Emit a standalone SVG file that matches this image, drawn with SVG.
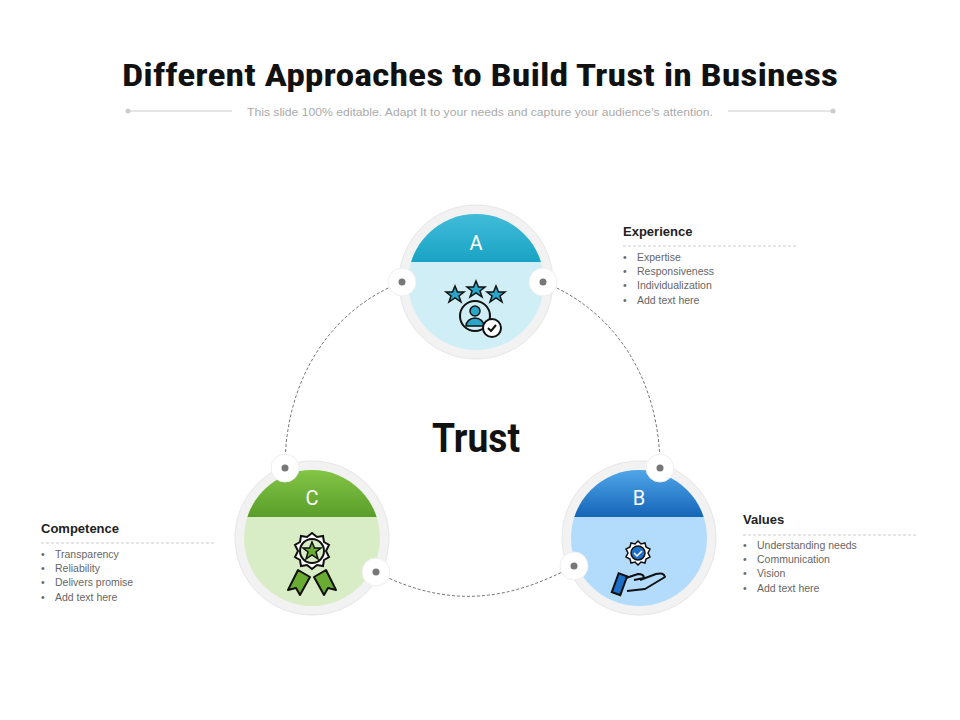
<svg xmlns="http://www.w3.org/2000/svg" width="960" height="720" viewBox="0 0 960 720">
<defs>
<linearGradient id="ga" x1="0" y1="0" x2="0" y2="1"><stop offset="0" stop-color="#4cc3de"/><stop offset="1" stop-color="#1aa3c4"/></linearGradient>
<linearGradient id="gb" x1="0" y1="0" x2="0" y2="1"><stop offset="0" stop-color="#5cb4f2"/><stop offset="1" stop-color="#1565b8"/></linearGradient>
<linearGradient id="gc" x1="0" y1="0" x2="0" y2="1"><stop offset="0" stop-color="#8ccd4c"/><stop offset="1" stop-color="#5a9e2a"/></linearGradient>
<clipPath id="ca"><circle cx="476" cy="282" r="68"/></clipPath>
<clipPath id="cb"><circle cx="639" cy="538" r="68"/></clipPath>
<clipPath id="cc"><circle cx="312" cy="538" r="68"/></clipPath>
</defs>
<style>
.ring{fill:#f2f2f2;stroke:#e6e6e6;stroke-width:1}
.lbl{font-family:Roboto,"Liberation Sans",sans-serif;font-size:20px;fill:#fff;text-anchor:middle}
.h{font-family:"Liberation Sans",Arial,sans-serif;font-weight:bold;font-size:13px;fill:#222}
.b{font-family:"Liberation Sans",Arial,sans-serif;font-size:10.5px;fill:#666}
.sep{stroke:#ccc;stroke-dasharray:3,2;stroke-width:1}
.con{fill:none;stroke:#777;stroke-width:1;stroke-dasharray:3,2}
.dot{fill:#777}
.notch{fill:#fff;stroke:#eee}
.ic{fill:none;stroke:#111;stroke-width:2;stroke-linejoin:round}
</style>
<text x="480" y="86" text-anchor="middle" font-family="'Roboto Condensed',Roboto,'Liberation Sans',sans-serif" font-weight="bold" font-size="32" fill="#111" textLength="716" lengthAdjust="spacingAndGlyphs">Different Approaches to Build Trust in Business</text>
<g stroke="#ccc"><line x1="128" y1="111" x2="232" y2="111"/><line x1="728" y1="111" x2="833" y2="111"/></g>
<circle cx="128" cy="111" r="2.5" fill="#ccc"/><circle cx="833" cy="111" r="2.5" fill="#ccc"/>
<text x="480" y="116" text-anchor="middle" font-family="'Liberation Sans',Arial,sans-serif" font-size="11" fill="#aaa" textLength="466" lengthAdjust="spacingAndGlyphs">This slide 100% editable. Adapt  It to your needs and capture your audience’s attention.</text>
<text x="476" y="452" text-anchor="middle" font-family="Roboto,'Liberation Sans',sans-serif" font-weight="bold" font-size="40" fill="#111" textLength="88" lengthAdjust="spacingAndGlyphs">Trust</text>
<g id="connectors">
<path class="con" d="M402,282 C330,310 285,380 285,468"/>
<path class="con" d="M543,282 C615,310 660,380 660,468"/>
<path class="con" d="M376,572 C450,610 510,600 574,566"/>
</g>
<g id="nodeA">
<circle class="ring" cx="476" cy="282" r="77"/>
<g clip-path="url(#ca)"><rect x="400" y="200" width="160" height="170" fill="#d0eef5"/><rect x="400" y="200" width="160" height="62" fill="url(#ga)"/></g>
<text class="lbl" x="476" y="250">A</text>
<g fill="#29a6c8" stroke="#111" stroke-width="1.5">
<polygon points="455,286 457.5,292 464,292 459,296 461,302 455,298 449,302 451,296 446,292 452.5,292"/>
<polygon points="476,281 478.5,287 485,287 480,291 482,297 476,293 470,297 472,291 467,287 473.5,287"/>
<polygon points="496,286 498.5,292 505,292 500,296 502,302 496,298 490,302 492,296 487,292 493.5,292"/>
</g>
<circle class="ic" cx="475" cy="316" r="15"/>
<circle cx="475" cy="311" r="5" fill="#29a6c8" stroke="#111" stroke-width="1.5"/>
<path d="M466,326 a9,8 0 0 1 18,0 Z" fill="#29a6c8" stroke="#111" stroke-width="1.5"/>
<circle cx="492" cy="328" r="9" fill="#fff" stroke="#111" stroke-width="2"/>
<path d="M488,328 l3,3 5,-6" class="ic"/>
<circle class="notch" cx="402" cy="282" r="14"/><circle class="dot" cx="402" cy="282" r="3.5"/>
<circle class="notch" cx="543" cy="282" r="14"/><circle class="dot" cx="543" cy="282" r="3.5"/>
</g>
<g id="nodeB">
<circle class="ring" cx="639" cy="538" r="77"/>
<g clip-path="url(#cb)"><rect x="560" y="460" width="160" height="160" fill="#b3dbfb"/><rect x="560" y="460" width="160" height="57" fill="url(#gb)"/></g>
<text class="lbl" x="639" y="505">B</text>
<polygon points="638,537 641,540 645,539 646,543 650,545 648,549 650,553 646,555 645,559 641,558 638,561 635,558 631,559 630,555 626,553 628,549 626,545 630,543 631,539 635,540" fill="#fff" stroke="#111" stroke-width="1.5" transform="translate(0,4)"/>
<circle cx="638" cy="553" r="7" fill="#1e6fc8" stroke="#111" stroke-width="1.5"/>
<path d="M634,553 l3,3 5,-5" fill="none" stroke="#fff" stroke-width="1.5"/>
<rect x="615" y="574" width="9" height="20" fill="#1e6fc8" stroke="#111" stroke-width="2" transform="rotate(20 619 584)"/>
<path d="M626,578 l12,-4 q6,0 6,4 l-10,2 M640,580 l16,-6 q8,-2 9,3 l-20,12 -18,2" class="ic"/>
<circle class="notch" cx="660" cy="468" r="14"/><circle class="dot" cx="660" cy="468" r="3.5"/>
<circle class="notch" cx="574" cy="566" r="14"/><circle class="dot" cx="574" cy="566" r="3.5"/>
</g>
<g id="nodeC">
<circle class="ring" cx="312" cy="538" r="77"/>
<g clip-path="url(#cc)"><rect x="230" y="460" width="170" height="160" fill="#d8edc5"/><rect x="230" y="460" width="170" height="57" fill="url(#gc)"/></g>
<text class="lbl" x="312" y="505">C</text>
<path d="M298,570 l-10,20 8,-2 4,7 10,-18 Z M326,570 l10,20 -8,-2 -4,7 -10,-18 Z" fill="#6aab34" stroke="#111" stroke-width="2" stroke-linejoin="round"/>
<polygon points="312,533 317,537 323,536 324,542 329,545 326,551 329,557 324,560 323,566 317,565 312,569 307,565 301,566 300,560 295,557 298,551 295,545 300,542 301,536 307,537" fill="#fff" stroke="#111" stroke-width="2"/>
<circle cx="312" cy="551" r="12" fill="#d8edc5" stroke="#111" stroke-width="2"/>
<polygon points="312,542 314.5,548 321,548 316,552 318,559 312,555 306,559 308,552 303,548 309.5,548" fill="#6aab34" stroke="#111" stroke-width="1.5"/>
<circle class="notch" cx="285" cy="468" r="14"/><circle class="dot" cx="285" cy="468" r="3.5"/>
<circle class="notch" cx="376" cy="572" r="14"/><circle class="dot" cx="376" cy="572" r="3.5"/>
</g>
<g id="textExperience">
<text class="h" x="623" y="236">Experience</text>
<line class="sep" x1="623" y1="246" x2="796" y2="246"/>
<text class="b" y="261"><tspan x="623">•</tspan><tspan x="637">Expertise</tspan></text>
<text class="b" y="275"><tspan x="623">•</tspan><tspan x="637">Responsiveness</tspan></text>
<text class="b" y="289"><tspan x="623">•</tspan><tspan x="637">Individualization</tspan></text>
<text class="b" y="304"><tspan x="623">•</tspan><tspan x="637">Add text here</tspan></text>
</g>
<g id="textValues">
<text class="h" x="743" y="524">Values</text>
<line class="sep" x1="743" y1="535" x2="916" y2="535"/>
<text class="b" y="549"><tspan x="743">•</tspan><tspan x="757">Understanding needs</tspan></text>
<text class="b" y="563"><tspan x="743">•</tspan><tspan x="757">Communication</tspan></text>
<text class="b" y="577"><tspan x="743">•</tspan><tspan x="757">Vision</tspan></text>
<text class="b" y="592"><tspan x="743">•</tspan><tspan x="757">Add text here</tspan></text>
</g>
<g id="textCompetence">
<text class="h" x="41" y="533">Competence</text>
<line class="sep" x1="41" y1="543" x2="214" y2="543"/>
<text class="b" y="558"><tspan x="41">•</tspan><tspan x="55">Transparency</tspan></text>
<text class="b" y="572"><tspan x="41">•</tspan><tspan x="55">Reliability</tspan></text>
<text class="b" y="586"><tspan x="41">•</tspan><tspan x="55">Delivers promise</tspan></text>
<text class="b" y="601"><tspan x="41">•</tspan><tspan x="55">Add text here</tspan></text>
</g>
</svg>
